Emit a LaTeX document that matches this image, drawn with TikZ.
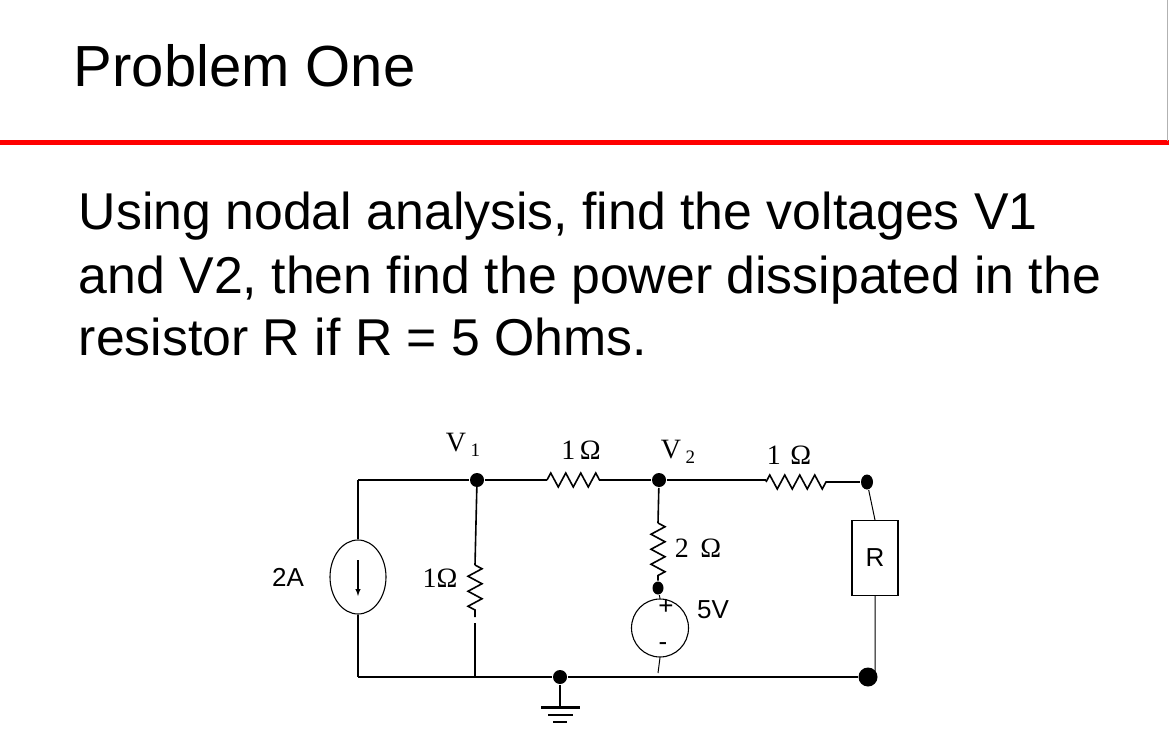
\documentclass[tikz,border=0pt]{standalone}
\usepackage{fontspec}
\setmainfont{Liberation Sans}
\newfontfamily\serifz{Liberation Serif}
\usetikzlibrary{decorations.pathmorphing,shapes.geometric}
\begin{document}
\begin{tikzpicture}[x=1pt,y=-1pt,line width=1.6pt,
  dot/.style={circle,fill=black,inner sep=0pt,minimum size=#1},
  res/.style={decorate,decoration={zigzag,segment length=15pt,amplitude=7pt}},
  lbl/.style={font=\fontsize{26}{28}\selectfont,inner sep=0pt},
  slbl/.style={font=\serifz\fontsize{28}{30}\selectfont,inner sep=0pt},
  body/.style={anchor=base west,inner sep=0pt,font=\fontsize{51.8}{60}\selectfont}]
\useasboundingbox (0,0) rectangle (1169,735);
\fill[white] (0,0) rectangle (1169,735);
% header
\node[anchor=base west,inner sep=0pt,font=\fontsize{58}{60}\selectfont] (title) at (73,87) {Problem One};
\draw[red,line width=5pt] (0,143) -- (1169,143);
\draw[gray!60,line width=1pt] (1167,0) -- (1167,141);
\node[body] (body1) at (78,230) {Using nodal analysis, find the voltages V1};
\node[body] (body2) at (78,293) {and V2, then find the power dissipated in the};
\node[body] (body3) at (78,355) {resistor R if R = 5 Ohms.};
% circuit nodes
\coordinate (tl) at (358,480);
\coordinate (bl) at (358,677);
\node[dot=14pt] (v1) at (477,480) {};
\node[dot=14pt] (v2) at (659,480) {};
\node[dot=15pt,minimum width=12pt,ellipse] (tr) at (867,482) {};
\node[dot=19pt] (br) at (868,677) {};
\node[dot=14pt] (g) at (560,677) {};
\coordinate (b1) at (475,677);
\coordinate (b2) at (658,677);
% current source
\node[ellipse,draw,minimum width=56pt,minimum height=74pt,inner sep=0pt,line width=1.1pt] (cs) at (358,577) {};
\draw[line width=1.6pt] (tl) -- (cs.north) (cs.south) -- (bl);
\draw[-latex,line width=1.4pt] (358,560) -- (358,596);
% top wire
\coordinate (r1a) at (547,480); \coordinate (r1b) at (601,480);
\draw (tl) -- (v1) -- (r1a);
\draw[res] (r1a) -- (r1b);
\draw (r1b) -- (v2) -- (766,480);
\coordinate (r3a) at (766,482); \coordinate (r3b) at (828,482);
\draw[res] (r3a) -- (r3b);
\draw (r3b) -- (tr);
% 1 ohm vertical
\coordinate (r2a) at (475,565); \coordinate (r2b) at (475,617);
\draw (477,480) -- (475,565);
\draw[res] (r2a) -- (r2b);
\draw (475,623) -- (b1);
% 2 ohm branch
\coordinate (r4a) at (658,523); \coordinate (r4b) at (658,575);
\node[dot=11pt,ellipse,minimum height=13pt] (vd) at (658,588) {};
\node[ellipse,draw,minimum width=57pt,minimum height=58pt,inner sep=0pt,line width=1.1pt] (vs) at (660,628) {};
\draw (v2) -- (r4a);
\draw[res] (r4a) -- (r4b) -- (vd);
\draw[line width=1pt] (vd) -- (vs.north);
\draw[line width=1pt] (vs.south) -- (658,673);
% R box
\node[draw,line width=1.1pt,minimum width=46pt,minimum height=75pt,inner sep=0pt,lbl] (R) at (875,558) {R};
\draw[line width=1pt] (tr) -- (875,520) (875,596) -- (875,677);
% bottom wire
\draw (bl) -- (b1) -- (g) -- (b2) -- (br);
% ground
\draw (g) -- (560,706);
\draw[line width=3pt] (541,707) -- (580,707);
\draw[line width=2.5pt] (548,715) -- (573,715);
\draw[line width=2pt] (553,722) -- (567,722);
% labels
\node[slbl] (lv1) at (463,445) {V\,\raisebox{-5pt}{\fontsize{19}{20}\selectfont 1}};
\node[slbl] (lr1) at (581,450) {1\,Ω};
\node[slbl] (lv2) at (678,452) {V\,\raisebox{-5pt}{\fontsize{19}{20}\selectfont 2}};
\node[slbl] (lr3) at (789,455) {1\,\,Ω};
\node[slbl] (lr4) at (698,548) {2 \,Ω};
\node[slbl] (lr2) at (440,578) {1Ω};
\node[lbl] (l2a) at (288,577) {2A};
\node[lbl] (l5v) at (713,610) {5V};
\node[lbl] (lp) at (666,607) {+};
\node[lbl] (lm) at (663,647) {-};
\end{tikzpicture}
\end{document}
